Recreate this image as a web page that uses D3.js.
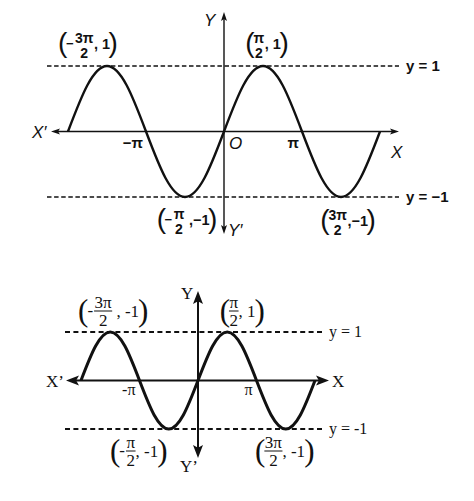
<!DOCTYPE html>
<html>
<head>
<meta charset="utf-8">
<script src="https://cdn.jsdelivr.net/npm/d3@7"></script>
<style>
body { margin: 0; background: #fff; }
svg { display: block; }
text { white-space: pre; }
</style>
</head>
<body>
<svg width="474" height="501"></svg>
<script>
// angle in units of pi, and the value of the curve read at each one
var piUnits = [-2, -1.75, -1.5, -1.25, -1, -0.75, -0.5, -0.25, 0, 0.25, 0.5, 0.75, 1, 1.25, 1.5, 1.75, 2];
var sinValues = [0, 0.71, 1, 0.71, 0, -0.71, -1, -0.71, 0, 0.71, 1, 0.71, 0, -0.71, -1, -0.71, 0];

var levels = [1, -1];          // dashed lines
var tickPi = [-1, 1];          // -pi, pi on the x axis
var peakPi = [-1.5, 0.5, -0.5, 1.5];
var peakVal = [1, 1, -1, -1];

// upper figure texts
var topTicks = ["−π", "π"];
var topLevels = ["y = 1", "y = −1"];
var topSigns = ["−", "", "−", ""];
var topNums = ["3π", "π", "π", "3π"];
var topDens = ["2", "2", "2", "2"];
var topVals = [", 1", ", 1", " ,−1", ",−1"];

// lower figure texts
var botTicks = ["-π", "π"];
var botLevels = ["y = 1", "y = -1"];
var botSigns = ["-", "", "-", ""];
var botNums = ["3π", "π", "π", "3π"];
var botDens = ["2", "2", "2", "2"];
var botVals = [" , -1", ", 1", ", -1", ", -1"];

var ink = "#111";
var svg = d3.select("svg");

function arrow(g, tx, ty, angle, len, w) {
  g.append("path")
    .attr("d", "M0,0L" + (-len) + "," + (-w / 2) + "L" + (-len * 0.78) + ",0L" + (-len) + "," + (w / 2) + "Z")
    .attr("transform", "translate(" + tx + "," + ty + ") rotate(" + angle + ")")
    .attr("fill", ink);
}

function drawLabel(g, cx, cy, sign, num, den, val, c) {
  var lg = g.append("g").attr("font-family", c.font).attr("fill", ink);
  var cur = 0;
  function add(txt, size, dy, weight) {
    var t = lg.append("text").attr("x", cur).attr("y", dy)
      .attr("font-size", size).attr("font-weight", weight).text(txt);
    cur += t.node().getComputedTextLength();
    return t;
  }
  add("(", c.parenSize, c.parenDy, "normal");
  cur += c.padIn;
  if (sign) { add(sign, c.signSize, c.signDy, c.weight); cur += 1; }
  var nt = lg.append("text").attr("y", c.numDy).attr("font-size", c.fracSize)
    .attr("font-weight", c.weight).attr("text-anchor", "middle").text(num);
  var dt = lg.append("text").attr("y", c.denDy).attr("font-size", c.fracSize)
    .attr("font-weight", c.weight).attr("text-anchor", "middle").text(den);
  var fw = Math.max(nt.node().getComputedTextLength(), dt.node().getComputedTextLength()) + 1;
  nt.attr("x", cur + fw / 2);
  dt.attr("x", cur + fw / 2);
  if (c.barW) {
    lg.append("line").attr("x1", cur).attr("x2", cur + fw)
      .attr("y1", c.barDy).attr("y2", c.barDy)
      .attr("stroke", ink).attr("stroke-width", c.barW);
  }
  cur += fw;
  add(val, c.valSize, c.valDy, c.weight);
  cur += c.padIn;
  add(")", c.parenSize, c.parenDy, "normal");
  lg.attr("transform", "translate(" + (cx - cur / 2) + "," + cy + ")");
}

function drawPanel(c) {
  var x = d3.scaleLinear().domain([-2, 2]).range(c.xRange);
  var y = d3.scaleLinear().domain([-1, 1]).range(c.yRange);
  var g = svg.append("g");

  // y = 1 and y = -1
  g.selectAll(".lvl").data(levels).join("line")
    .attr("x1", c.dash[0]).attr("x2", c.dash[1])
    .attr("y1", function(d) { return y(d); }).attr("y2", function(d) { return y(d); })
    .attr("stroke", ink).attr("stroke-width", c.dashW).attr("stroke-dasharray", c.dashArr);
  g.selectAll(".lvlt").data(levels).join("text")
    .attr("x", c.lvlX).attr("y", function(d) { return y(d) + c.lvlDy; })
    .attr("font-family", c.font).attr("font-size", c.lvlSize).attr("font-weight", c.weight)
    .attr("fill", ink)
    .text(function(d, i) { return c.levelText[i]; });

  // axes
  var y0 = y(0), x0 = x(0);
  g.append("line")
    .attr("x1", c.axX[0] + c.arrLen * 0.6).attr("x2", c.axX[1] - c.arrLen * 0.6)
    .attr("y1", y0).attr("y2", y0)
    .attr("stroke", ink).attr("stroke-width", c.axW);
  arrow(g, c.axX[0], y0, 180, c.arrLen, c.arrW);
  arrow(g, c.axX[1], y0, 0, c.arrLen, c.arrW);
  g.append("line")
    .attr("x1", x0).attr("x2", x0)
    .attr("y1", c.axY[0] + c.arrLen * 0.6).attr("y2", c.axY[1] - c.arrLen * 0.6)
    .attr("stroke", ink).attr("stroke-width", c.axW);
  arrow(g, x0, c.axY[0], -90, c.arrLen, c.arrW);
  arrow(g, x0, c.axY[1], 90, c.arrLen, c.arrW);

  // the curve
  var line = d3.line()
    .x(function(d, i) { return x(piUnits[i]); })
    .y(function(d) { return y(d); })
    .curve(d3.curveNatural);
  g.append("path").datum(sinValues).attr("d", line)
    .attr("fill", "none").attr("stroke", ink)
    .attr("stroke-width", c.curveW).attr("stroke-linejoin", "round");

  // -pi, pi
  g.selectAll(".tick").data(tickPi).join("text")
    .attr("x", function(d) { return x(d) + c.tickDx; })
    .attr("y", y0 + c.tickDy)
    .attr("text-anchor", "end")
    .attr("font-family", c.font).attr("font-size", c.tickSize).attr("font-weight", c.weight)
    .attr("fill", ink)
    .text(function(d, i) { return c.tickText[i]; });

  // axis names
  c.names.forEach(function(n) {
    g.append("text")
      .attr("x", n[1]).attr("y", n[2])
      .attr("font-family", c.font).attr("font-size", c.nameSize)
      .attr("font-style", c.nameStyle).attr("font-weight", c.nameWeight)
      .attr("fill", ink)
      .text(n[0]);
  });

  // point labels
  peakPi.forEach(function(p, i) {
    drawLabel(g, x(p) + c.labDx[i], y(peakVal[i]) + c.labDy[i],
      c.signs[i], c.nums[i], c.dens[i], c.vals[i], c);
  });
}

drawPanel({
  xRange: [68, 380], yRange: [197, 66],
  axX: [51, 399], axY: [12, 234],
  dash: [47, 399], dashW: 1.4, dashArr: "4.5,2.6",
  lvlX: 406, lvlDy: 5, lvlSize: 15, levelText: topLevels,
  axW: 1.4, arrLen: 9, arrW: 6, curveW: 2.4,
  tickDx: -3, tickDy: 16, tickSize: 15, tickText: topTicks,
  font: "Liberation Sans, Arial, sans-serif", weight: "bold",
  nameSize: 17, nameStyle: "italic", nameWeight: "normal",
  names: [["X′", 32, 138], ["X", 391, 158], ["Y", 204, 26], ["Y′", 228, 236], ["O", 229, 149]],
  labDx: [-19, 4, 2, 7], labDy: [-21, -21, 24, 25],
  signs: topSigns, nums: topNums, dens: topDens, vals: topVals,
  parenSize: 28, parenDy: 7, padIn: -1.5, fracSize: 14, signSize: 13, signDy: 3,
  numDy: -2, denDy: 12.5, barW: 0, barDy: 1, valSize: 14.5, valDy: 3.5
});

drawPanel({
  xRange: [81, 315], yRange: [429, 332],
  axX: [66, 329], axY: [291, 458],
  dash: [65, 324], dashW: 1.8, dashArr: "5,3.4",
  lvlX: 329, lvlDy: 5, lvlSize: 16, levelText: botLevels,
  axW: 2, arrLen: 13, arrW: 10, curveW: 3,
  tickDx: -4, tickDy: 14, tickSize: 16, tickText: botTicks,
  font: "Liberation Serif, Times New Roman, serif", weight: "normal",
  nameSize: 17, nameStyle: "normal", nameWeight: "normal",
  names: [["X’", 46, 387], ["X", 332, 387], ["Y", 181, 299], ["Y’", 180, 472]],
  labDx: [3, 15, -30, -1], labDy: [-20, -20, 23, 23],
  signs: botSigns, nums: botNums, dens: botDens, vals: botVals,
  parenSize: 31, parenDy: 9, padIn: -1, fracSize: 17, signSize: 17, signDy: 4,
  numDy: -4, denDy: 13.5, barW: 1, barDy: -1, valSize: 17, valDy: 5
});
</script>
</body>
</html>
